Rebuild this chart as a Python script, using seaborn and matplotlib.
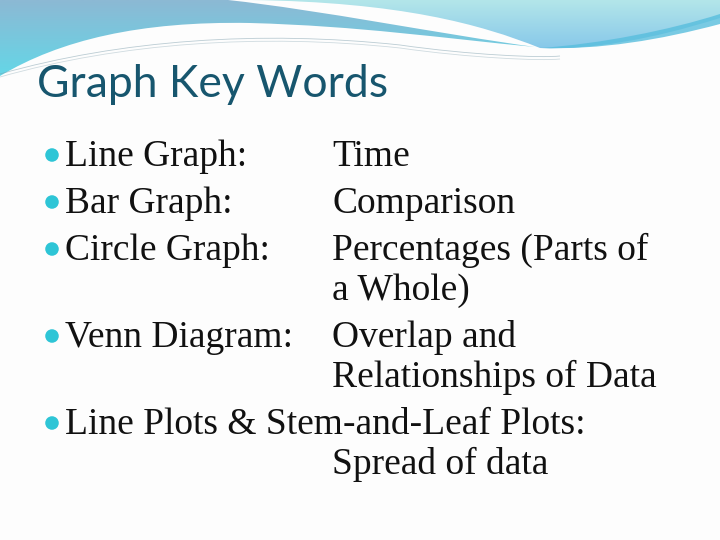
import numpy as np
import matplotlib
matplotlib.use("Agg")
import matplotlib.pyplot as plt
from matplotlib.path import Path
from matplotlib.patches import PathPatch
import seaborn as sns

# ── Slide content ────────────────────────────────────────────────────────────
TITLE = "Graph Key Words"
TERMS = ["Line Graph:", "Bar Graph:", "Circle Graph:", "Venn Diagram:",
         "Line Plots & Stem-and-Leaf Plots:"]
MEANINGS = [["Time"],
            ["Comparison"],
            ["Percentages (Parts of", "a Whole)"],
            ["Overlap and", "Relationships of Data"],
            ["", "Spread of data"]]

TITLE_COLOR = "#17566E"
BULLET_COLOR = "#2EC5D6"
TEXT_COLOR = "#111111"

sns.set_theme(style="white")
plt.rcParams["font.family"] = ["Liberation Serif", "DejaVu Serif"]

fig = plt.figure(figsize=(7.2, 5.4), dpi=100)
ax = fig.add_axes([0, 0, 1, 1])
ax.set_xlim(0, 720)
ax.set_ylim(540, 0)
ax.axis("off")
fig.patch.set_facecolor("#FDFDFD")


def gradient_fill(verts, codes, top_color, bottom_color, y0, y1, z=1):
    path = Path(verts, codes)
    patch = PathPatch(path, facecolor="none", edgecolor="none")
    ax.add_patch(patch)
    c0 = np.array(matplotlib.colors.to_rgb(top_color))
    c1 = np.array(matplotlib.colors.to_rgb(bottom_color))
    t = np.linspace(0, 1, 64)[:, None]
    grad = (c0 * (1 - t) + c1 * t)[:, None, :]
    im = ax.imshow(grad, extent=[0, 720, y1, y0], aspect="auto", zorder=z,
                   interpolation="bilinear")
    im.set_clip_path(patch)


C4, L, M, CL = Path.CURVE4, Path.LINETO, Path.MOVETO, Path.CLOSEPOLY

# left swoosh (blue-grey to cyan)
left_v = [(0, 0), (228, 0),
          (320, 10), (440, 34), (535, 47),
          (440, 38), (360, 26), (250, 23),
          (140, 21), (60, 40), (0, 76),
          (0, 0)]
left_c = [M, L, C4, C4, C4, C4, C4, C4, C4, C4, C4, CL]
gradient_fill(left_v, left_c, "#8CB9D4", "#62D8E8", 0, 80, z=1)

# right swoosh (light aqua to blue)
right_v = [(250, 0), (720, 0), (720, 18),
           (650, 40), (590, 50), (540, 48),
           (480, 24), (400, 2), (250, 0),
           (250, 0)]
right_c = [M, L, L, C4, C4, C4, C4, C4, C4, CL]
gradient_fill(right_v, right_c, "#B3E6E9", "#86C7EA", 0, 50, z=2)

# darker lower edge of the right swoosh
edge_v = [(540, 48), (600, 44), (670, 30), (720, 14),
          (720, 24), (660, 40), (600, 50), (540, 48)]
edge_c = [M, C4, C4, C4, L, C4, C4, C4]
ax.add_patch(PathPatch(Path(edge_v, edge_c), facecolor="#58BEDD",
                       edgecolor="none", alpha=0.8, zorder=3))

# thin grey accent lines
for dy, a in [(0, 0.5), (3, 0.35)]:
    line_v = [(0, 74 + dy), (120, 40 + dy), (260, 30 + dy), (400, 45 + dy),
              (470, 55 + dy), (540, 58 + dy), (560, 56 + dy)]
    line_c = [M, C4, C4, C4, C4, C4, C4]
    ax.add_patch(PathPatch(Path(line_v, line_c), facecolor="none",
                           edgecolor="#7A9CAA", lw=0.6, alpha=a, zorder=4))

# title
ax.text(37, 97, TITLE, fontsize=32, color=TITLE_COLOR,
        family=["Lato", "DejaVu Sans"], va="baseline", ha="left", zorder=5)

# bullet list
term_x, meaning_x = 65, 332
y = 166
for term, lines in zip(TERMS, MEANINGS):
    ax.scatter([52], [y - 11], s=95, color=BULLET_COLOR, zorder=5,
               edgecolor="none")
    ax.text(term_x, y, term, fontsize=27, color=TEXT_COLOR,
            va="baseline", ha="left", zorder=5)
    for i, line in enumerate(lines):
        if line:
            ax.text(meaning_x, y + i * 40, line, fontsize=27, color=TEXT_COLOR,
                    va="baseline", ha="left", zorder=5)
    y += 40 * (len(lines) - 1) + 47

fig.savefig("out.png", dpi=100, facecolor=fig.get_facecolor())
